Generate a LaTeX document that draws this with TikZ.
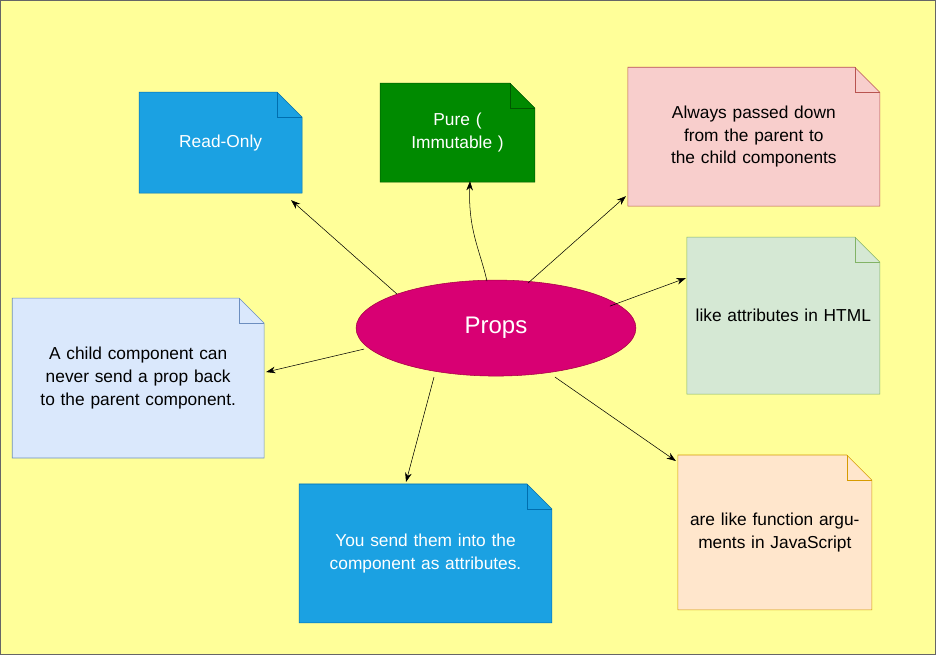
\documentclass[tikz,border=0pt]{standalone}
\usepackage{fontspec}
\setmainfont{Liberation Sans}
\usetikzlibrary{arrows.meta,shapes.geometric}
\definecolor{bg}{HTML}{FFFF99}
\definecolor{blueF}{HTML}{1BA1E2}\definecolor{blueD}{HTML}{006EAF}
\definecolor{greenF}{HTML}{008A00}\definecolor{greenD}{HTML}{005700}
\definecolor{redF}{HTML}{F8CECC}\definecolor{redD}{HTML}{B85450}
\definecolor{lgF}{HTML}{D5E8D4}\definecolor{lgD}{HTML}{82B366}
\definecolor{orF}{HTML}{FFE6CC}\definecolor{orD}{HTML}{D79B00}
\definecolor{lbF}{HTML}{DAE8FC}\definecolor{lbD}{HTML}{6C8EBF}
\definecolor{pinkF}{HTML}{D80073}\definecolor{pinkD}{HTML}{A50040}
\newcommand{\mynote}[9]{%
 \path[fill=#6,draw=#7] (#2,#3) -- ({#4-25},#3) -- (#4,{#3+25}) -- (#4,#5) -- (#2,#5) -- cycle;
 \draw[#7] ({#4-25},#3) -- ({#4-25},{#3+25}) -- (#4,{#3+25});
 \node[text=#8,align=center,font=\fontsize{13}{17}\selectfont,text width={(#4-#2-16)*0.75pt}] (#1) at ({(#2+#4)/2},{(#3+#5)/2}) {#9};}
\begin{document}
\begin{tikzpicture}[x=0.75pt,y=-0.75pt,arr/.style={-{Stealth[length=7pt,width=5pt]},black}]
\path[fill=bg,draw=black!60] (0,0) rectangle (936,654);
\useasboundingbox (0,0) rectangle (936,654);
\mynote{ro}{139}{92}{302}{193}{blueF}{blueD}{white}{Read-Only}
\mynote{pure}{380}{83}{535}{182}{greenF}{greenD}{white}{Pure (\\ Immutable )}
\mynote{alw}{628}{67}{880}{206}{redF}{redD}{black}{Always passed down from the parent to the child components}
\mynote{html}{687}{237}{880}{394}{lgF}{lgD}{black}{like attributes in HTML}
\mynote{func}{678}{455}{872}{610}{orF}{orD}{black}{are like function arguments in JavaScript}
\mynote{send}{299}{484}{552}{623}{blueF}{blueD}{white}{You send them into the component as attributes.}
\mynote{child}{12}{298}{264}{458}{lbF}{lbD}{black}{A child component can never send a prop back to the parent component.}
\node[ellipse,fill=pinkF,draw=pinkD,minimum width=280*0.75pt,minimum height=96*0.75pt,text=white,font=\fontsize{18}{22}\selectfont] (props) at (496,328) {Props};
\coordinate (ro-t) at (291,200);
\coordinate (pu-t) at (470,181);
\coordinate (al-t) at (626,196);
\coordinate (ht-t) at (686,278);
\coordinate (fu-t) at (676,461);
\coordinate (se-t) at (406,482);
\coordinate (ch-t) at (266,372);
\draw[arr] (397,294) -- (ro-t);
\draw[arr] (487,281) .. controls (480,250) and (468,230) .. (pu-t);
\draw[arr] (528,283) -- (al-t);
\draw[arr] (610,306) -- (ht-t);
\draw[arr] (555,377) -- (fu-t);
\draw[arr] (434,377) -- (se-t);
\draw[arr] (364,349) -- (ch-t);
\end{tikzpicture}
\end{document}
